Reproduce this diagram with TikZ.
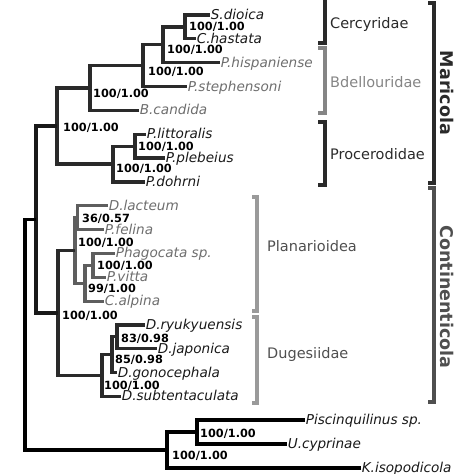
\documentclass[tikz,border=0pt]{standalone}
\usepackage{fontspec}
\setmainfont{DejaVu Sans}
\definecolor{dk}{HTML}{2A2A2A}
\definecolor{mg}{HTML}{5E5E5E}
\definecolor{tg}{HTML}{6E6E6E}
\definecolor{lg}{HTML}{9A9A9A}
\definecolor{bg}{HTML}{858585}
\definecolor{cg}{HTML}{4F4F4F}
\begin{document}
\begin{tikzpicture}[x=1pt,y=-1pt,
  edge/.style={line width=3.2pt, line join=miter, draw=#1},
  edge/.default=dk,
  sp/.style={anchor=base west, inner sep=0.6pt, font=\fontsize{13.6}{15}\selectfont\itshape, yshift=-4.5pt, text=black!90},
  spg/.style={sp, text=tg},
  bs/.style={anchor=base west, inner sep=0pt, font=\fontsize{11.3}{13}\selectfont\bfseries, yshift=-4.0pt, text=black},
  fam/.style={anchor=base west, inner sep=0pt, font=\fontsize{14.5}{16}\selectfont, yshift=-5.2pt},
  clade/.style={font=\fontsize{17.5}{20}\selectfont\bfseries, rotate=-90, inner sep=0pt},
  brk/.style={line width=3.2pt, line join=miter, draw=#1}]
\useasboundingbox (0,0) rectangle (474,474);
\clip (0,0) rectangle (474,474);
% leaves (tips)
\coordinate (l0) at (210,15.0);
\coordinate (l1) at (196,38.8);
\coordinate (l2) at (220,62.7);
\coordinate (l3) at (187,86.5);
\coordinate (l4) at (139,110.4);
\coordinate (l5) at (146,134.2);
\coordinate (l6) at (165,158.0);
\coordinate (l7) at (145,181.9);
\coordinate (l8) at (108,205.7);
\coordinate (l9) at (104,229.6);
\coordinate (l10) at (115,253.4);
\coordinate (l11) at (106,277.2);
\coordinate (l12) at (104,301.1);
\coordinate (l13) at (145,324.9);
\coordinate (l14) at (157,348.8);
\coordinate (l15) at (117,372.6);
\coordinate (l16) at (121,396.4);
\coordinate (l17) at (305,420.3);
\coordinate (l18) at (287,444.1);
\coordinate (l19) at (361,468.0);
% internal nodes
\coordinate (nSC) at (185,26.9);
\coordinate (nSCH) at (163,44.8);
\coordinate (nSCHS) at (143,65.6);
\coordinate (nB) at (90,88.0);
\coordinate (nLP) at (135,146.1);
\coordinate (nPro) at (113,164.0);
\coordinate (nMar) at (57,126.0);
\coordinate (nLF) at (77.5,217.6);
\coordinate (nPV) at (93,265.3);
\coordinate (nPVA) at (85,283.2);
\coordinate (nPl) at (75,250.4);
\coordinate (nRJ) at (117,336.8);
\coordinate (nRJG) at (112,354.7);
\coordinate (nDug) at (102,375.6);
\coordinate (nCont) at (58,313.0);
\coordinate (nMC) at (36,219.5);
\coordinate (nPU) at (197,432.2);
\coordinate (nOut) at (167,450.1);
\coordinate (nRoot) at (25,334.8);
% edges: Maricola
\draw[edge] (nSC) |- (l0);
\draw[edge] (nSC) |- (l1);
\draw[edge] (nSCH) |- (nSC);
\draw[edge] (nSCH) |- (l2);
\draw[edge] (nSCHS) |- (nSCH);
\draw[edge] (nSCHS) |- (l3);
\draw[edge] (nB) |- (nSCHS);
\draw[edge] (nB) |- (l4);
\draw[edge] (nLP) |- (l5);
\draw[edge] (nLP) |- (l6);
\draw[edge] (nPro) |- (nLP);
\draw[edge] (nPro) |- (l7);
\draw[edge] (nMar) |- (nB);
\draw[edge] (nMar) |- (nPro);
% Planarioidea
\draw[edge=mg] (nLF) |- (l8);
\draw[edge=mg] (nLF) |- (l9);
\draw[edge=mg] (nPV) |- (l10);
\draw[edge=mg] (nPV) |- (l11);
\draw[edge=mg] (nPVA) |- (nPV);
\draw[edge=mg] (nPVA) |- (l12);
\draw[edge=mg] (nPl) |- (nLF);
\draw[edge=mg] (nPl) |- (nPVA);
% Dugesiidae
\draw[edge] (nRJ) |- (l13);
\draw[edge] (nRJ) |- (l14);
\draw[edge] (nRJG) |- (nRJ);
\draw[edge] (nRJG) |- (l15);
\draw[edge] (nDug) |- (nRJG);
\draw[edge] (nDug) |- (l16);
\draw[edge] (nCont) |- (nPl);
\draw[edge] (nCont) |- (nDug);
\draw[edge=black!90] (nMC) |- (nMar);
\draw[edge=black!90] (nMC) |- (nCont);
% outgroup
\draw[edge=black, line width=3.8pt] (nPU) |- (l17);
\draw[edge=black, line width=3.8pt] (nPU) |- (l18);
\draw[edge=black, line width=3.8pt] (nOut) |- (nPU);
\draw[edge=black, line width=3.8pt] (nOut) |- (l19);
\draw[edge=black, line width=3.8pt] (nRoot) |- (nMC);
\draw[edge=black, line width=3.8pt] (nRoot) |- (nOut);
% species labels
\node[sp]  (t0) at (l0) {S.dioica};
\node[sp]  (t1) at (l1) {C.hastata};
\node[spg] (t2) at (l2) {P.hispaniense};
\node[spg] (t3) at (l3) {P.stephensoni};
\node[spg] (t4) at (l4) {B.candida};
\node[sp]  (t5) at (l5) {P.littoralis};
\node[sp]  (t6) at (l6) {P.plebeius};
\node[sp]  (t7) at (l7) {P.dohrni};
\node[spg] (t8) at (l8) {D.lacteum};
\node[spg] (t9) at (l9) {P.felina};
\node[spg] (t10) at (l10) {Phagocata sp.};
\node[spg] (t11) at (l11) {P.vitta};
\node[spg] (t12) at (l12) {C.alpina};
\node[sp]  (t13) at (l13) {D.ryukyuensis};
\node[sp]  (t14) at (l14) {D.japonica};
\node[sp]  (t15) at (l15) {D.gonocephala};
\node[sp]  (t16) at (l16) {D.subtentaculata};
\node[sp]  (t17) at (l17) {Piscinquilinus sp.};
\node[sp]  (t18) at (l18) {U.cyprinae};
\node[sp]  (t19) at (l19) {K.isopodicola};
% support values
\node[bs] (b1) at (189,26.5) {100/1.00};
\node[bs] (b2) at (167,49.5) {100/1.00};
\node[bs] (b3) at (148,71.5) {100/1.00};
\node[bs] (b4) at (93,93) {100/1.00};
\node[bs] (b5) at (63,127) {100/1.00};
\node[bs] (b6) at (138,146) {100/1.00};
\node[bs] (b7) at (116,168) {100/1.00};
\node[bs] (b8) at (82,218) {36/0.57};
\node[bs] (b9) at (78,242) {100/1.00};
\node[bs] (b10) at (97,265.5) {100/1.00};
\node[bs] (b11) at (88,288.5) {99/1.00};
\node[bs] (b12) at (62,315) {100/1.00};
\node[bs] (b13) at (121,338) {83/0.98};
\node[bs] (b14) at (115,359.5) {85/0.98};
\node[bs] (b15) at (104,385) {100/1.00};
\node[bs] (b16) at (200,433) {100/1.00};
\node[bs] (b17) at (172,455) {100/1.00};
% family brackets
\draw[brk=dk] (318,-3) -- (325,-3) -- (325,43) -- (318,43);
\draw[brk=bg] (318,48) -- (325,48) -- (325,113) -- (318,113);
\draw[brk=dk] (318,122) -- (325,122) -- (325,185) -- (318,185);
\draw[brk=lg] (252,197) -- (257,197) -- (257,311) -- (252,311);
\draw[brk=lg] (252,317) -- (257,317) -- (257,403) -- (252,403);
\draw[brk=dk, line width=3.6pt] (428,3) -- (434,3) -- (434,183) -- (428,183);
\draw[brk=cg, line width=3.6pt] (428,188) -- (434,188) -- (434,402) -- (428,402);
\node[fam, text=dk] (f1) at (330,23) {Cercyridae};
\node[fam, text=bg] (f2) at (330,82) {Bdellouridae};
\node[fam, text=dk] (f3) at (330,154) {Procerodidae};
\node[fam, text=cg] (f4) at (267,246) {Planarioidea};
\node[fam, text=cg] (f5) at (267,353) {Dugesiidae};
\node[clade, text=dk] (c1) at (447,93) {Maricola};
\node[clade, text=cg] (c2) at (447,297) {Continenticola};
\end{tikzpicture}
\end{document}
